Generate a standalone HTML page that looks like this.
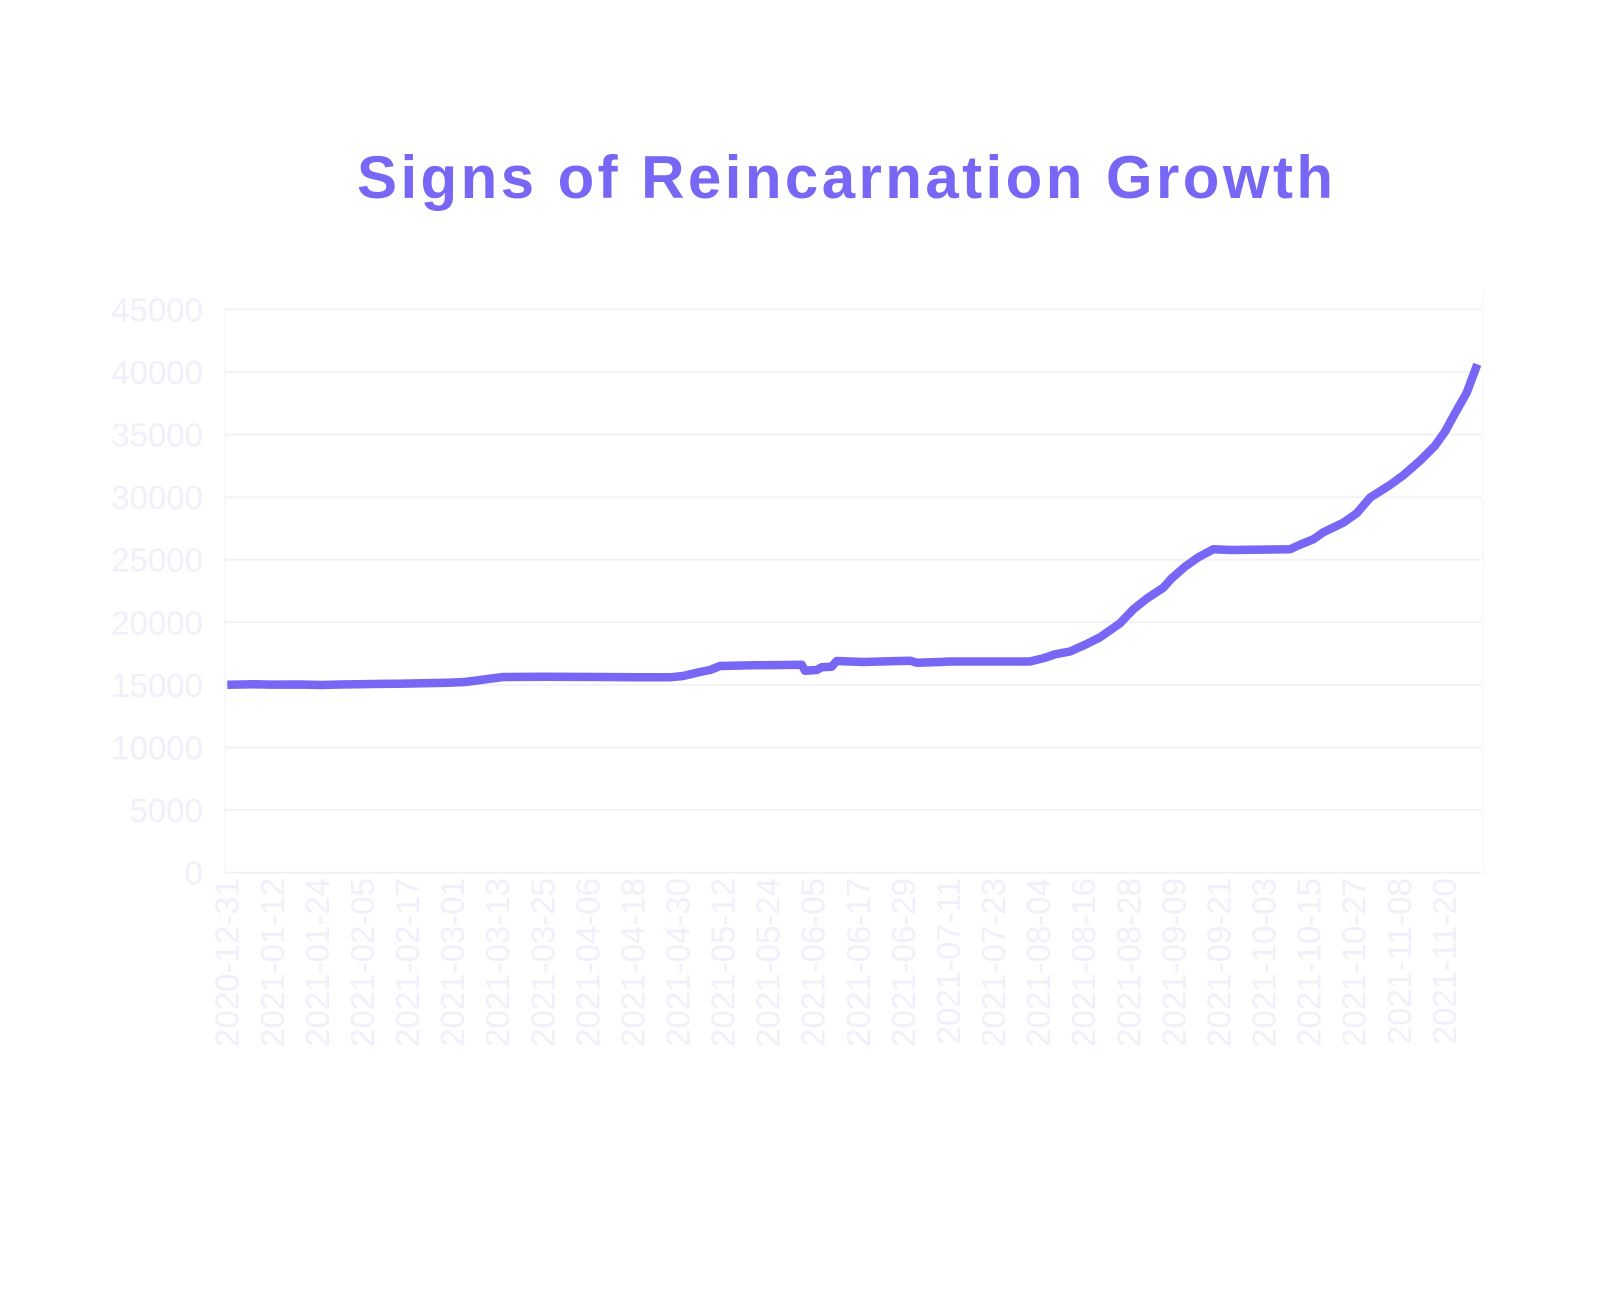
<!DOCTYPE html>
<html>
<head>
<meta charset="utf-8">
<style>
  html,body{margin:0;padding:0;background:#ffffff;}
  svg{display:block;}
</style>
</head>
<body>
<svg width="1605" height="1291" viewBox="0 0 1605 1291" xmlns="http://www.w3.org/2000/svg">
  <rect x="0" y="0" width="1605" height="1291" fill="#ffffff"/>
  <!-- title -->
  <text x="357" y="198" font-family="'Liberation Sans', sans-serif" font-weight="bold" font-size="60" fill="#7866f5" textLength="976" lengthAdjust="spacing">Signs of Reincarnation Growth</text>

  <!-- plot borders -->
  <line x1="225" y1="309" x2="225" y2="873" stroke="#f7f7fa" stroke-width="1.5"/>
  <line x1="1483" y1="290" x2="1483" y2="875" stroke="#f9f9fb" stroke-width="1.5"/>

  <!-- gridlines -->
  <g stroke="#f2f2f6" stroke-width="2">
    <line x1="225" y1="872.7" x2="1481" y2="872.7"/>
    <line x1="225" y1="810.1" x2="1481" y2="810.1"/>
    <line x1="225" y1="747.5" x2="1481" y2="747.5"/>
    <line x1="225" y1="684.9" x2="1481" y2="684.9"/>
    <line x1="225" y1="622.3" x2="1481" y2="622.3"/>
    <line x1="225" y1="559.7" x2="1481" y2="559.7"/>
    <line x1="225" y1="497.1" x2="1481" y2="497.1"/>
    <line x1="225" y1="434.5" x2="1481" y2="434.5"/>
    <line x1="225" y1="371.9" x2="1481" y2="371.9"/>
    <line x1="225" y1="309.3" x2="1481" y2="309.3"/>
  </g>

  <!-- y labels -->
  <g font-family="'Liberation Sans', sans-serif" font-size="33" fill="#f0effa" text-anchor="end">
    <text x="203" y="884.7">0</text>
    <text x="203" y="822.1">5000</text>
    <text x="203" y="759.5">10000</text>
    <text x="203" y="696.9">15000</text>
    <text x="203" y="634.3">20000</text>
    <text x="203" y="571.7">25000</text>
    <text x="203" y="509.1">30000</text>
    <text x="203" y="446.5">35000</text>
    <text x="203" y="383.9">40000</text>
    <text x="203" y="321.3">45000</text>
  </g>

  <!-- x labels -->
  <g font-family="'Liberation Sans', sans-serif" font-size="33" fill="#f0effa" text-anchor="end">
    <text transform="translate(238.7,878) rotate(-90)">2020-12-31</text>
    <text transform="translate(283.8,878) rotate(-90)">2021-01-12</text>
    <text transform="translate(328.9,878) rotate(-90)">2021-01-24</text>
    <text transform="translate(373.9,878) rotate(-90)">2021-02-05</text>
    <text transform="translate(419.0,878) rotate(-90)">2021-02-17</text>
    <text transform="translate(464.1,878) rotate(-90)">2021-03-01</text>
    <text transform="translate(509.2,878) rotate(-90)">2021-03-13</text>
    <text transform="translate(554.3,878) rotate(-90)">2021-03-25</text>
    <text transform="translate(599.3,878) rotate(-90)">2021-04-06</text>
    <text transform="translate(644.4,878) rotate(-90)">2021-04-18</text>
    <text transform="translate(689.5,878) rotate(-90)">2021-04-30</text>
    <text transform="translate(734.6,878) rotate(-90)">2021-05-12</text>
    <text transform="translate(779.7,878) rotate(-90)">2021-05-24</text>
    <text transform="translate(824.7,878) rotate(-90)">2021-06-05</text>
    <text transform="translate(869.8,878) rotate(-90)">2021-06-17</text>
    <text transform="translate(914.9,878) rotate(-90)">2021-06-29</text>
    <text transform="translate(960.0,878) rotate(-90)">2021-07-11</text>
    <text transform="translate(1005.1,878) rotate(-90)">2021-07-23</text>
    <text transform="translate(1050.1,878) rotate(-90)">2021-08-04</text>
    <text transform="translate(1095.2,878) rotate(-90)">2021-08-16</text>
    <text transform="translate(1140.3,878) rotate(-90)">2021-08-28</text>
    <text transform="translate(1185.4,878) rotate(-90)">2021-09-09</text>
    <text transform="translate(1230.5,878) rotate(-90)">2021-09-21</text>
    <text transform="translate(1275.5,878) rotate(-90)">2021-10-03</text>
    <text transform="translate(1320.6,878) rotate(-90)">2021-10-15</text>
    <text transform="translate(1365.7,878) rotate(-90)">2021-10-27</text>
    <text transform="translate(1410.8,878) rotate(-90)">2021-11-08</text>
    <text transform="translate(1455.9,878) rotate(-90)">2021-11-20</text>
  </g>

  <!-- data line -->
  <polyline fill="none" stroke="#7866f5" stroke-width="8.5" stroke-linejoin="round" stroke-linecap="butt"
    points="227.3,684.7 255,684.3 270,684.6 300,684.5 321.7,685 340,684.5 398,683.7 448,682.7 465,682 503,677 545,676.7 600,677 650,677.3 670,677.3 683,676 700,672 710,670 720,666 753,665.3 801.7,664.7 805,670.7 816.7,670 821.7,667.3 831.7,666.7 836.7,661 863,662 910,660.7 916.7,662.7 940,662 950,661.5 1030,661.5 1043.3,658.3 1055,654.3 1070,651.5 1086.7,644 1100,637.3 1120,623.3 1133.3,609.3 1146.7,598.7 1163.3,587.7 1171.7,578.3 1185,566.7 1198.3,557.3 1213.3,549.3 1230,550 1290,549.3 1300,544.7 1313.3,539.3 1323.3,532.3 1343.3,522.7 1356.7,513.3 1370,497.7 1390,485 1403.3,475.3 1420,460.7 1435,445.7 1445,431.7 1455,413.3 1466.7,392.7 1477.3,364.3"/>
</svg>
</body>
</html>
